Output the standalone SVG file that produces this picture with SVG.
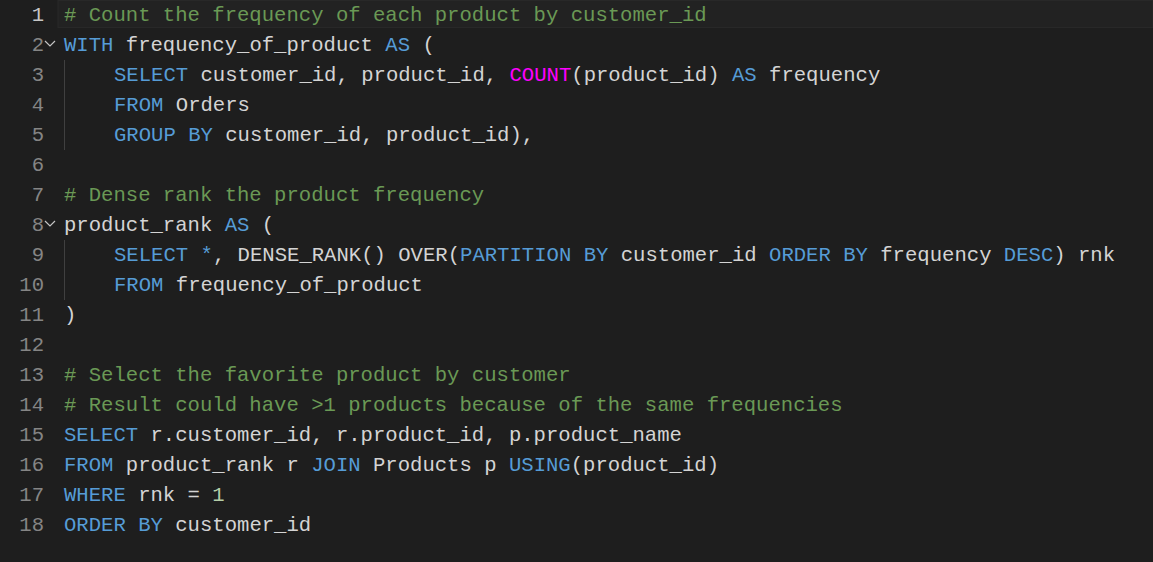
<svg xmlns="http://www.w3.org/2000/svg" width="1153" height="562" viewBox="0 0 1153 562">
<style>
text{font-family:"Liberation Mono","DejaVu Sans Mono",monospace;font-size:20.6px;fill:#d4d4d4;white-space:pre}
.n{fill:#858585;text-anchor:end}
.c{fill:#6a9955}.k{fill:#569cd6}.m{fill:#ff00ff}.d{fill:#b5cea8}
.g{stroke:#404040;stroke-width:1}
.f{fill:none;stroke:#c5c5c5;stroke-width:1.2}
</style>
<rect width="1153" height="562" fill="#1e1e1e"/>
<rect x="58" y="0.5" width="1095" height="27" fill="#222222" stroke="#282828"/>
<g id="guides">
<line class="g" x1="64.5" y1="60" x2="64.5" y2="150"/>
<line class="g" x1="64.5" y1="240" x2="64.5" y2="300"/>
<path class="f" d="M45 41 l5 5 l5 -5"/>
<path class="f" d="M45 221 l5 5 l5 -5"/>
</g>
<g id="numbers">
<text class="n" x="44" y="21" style="fill:#c6c6c6">1</text>
<text class="n" x="44" y="51">2</text><text class="n" x="44" y="81">3</text>
<text class="n" x="44" y="111">4</text><text class="n" x="44" y="141">5</text>
<text class="n" x="44" y="171">6</text><text class="n" x="44" y="201">7</text>
<text class="n" x="44" y="231">8</text><text class="n" x="44" y="261">9</text>
<text class="n" x="44" y="291">10</text><text class="n" x="44" y="321">11</text>
<text class="n" x="44" y="351">12</text><text class="n" x="44" y="381">13</text>
<text class="n" x="44" y="411">14</text><text class="n" x="44" y="441">15</text>
<text class="n" x="44" y="471">16</text><text class="n" x="44" y="501">17</text>
<text class="n" x="44" y="531">18</text>
</g>
<g id="code">
<text x="64" y="21" class="c"># Count the frequency of each product by customer_id</text>
<text x="64" y="51"><tspan class="k">WITH</tspan> frequency_of_product <tspan class="k">AS</tspan> (</text>
<text x="114" y="81"><tspan class="k">SELECT</tspan> customer_id, product_id, <tspan class="m">COUNT</tspan>(product_id) <tspan class="k">AS</tspan> frequency</text>
<text x="114" y="111"><tspan class="k">FROM</tspan> Orders</text>
<text x="114" y="141"><tspan class="k">GROUP BY</tspan> customer_id, product_id),</text>
<text x="64" y="201" class="c"># Dense rank the product frequency</text>
<text x="64" y="231">product_rank <tspan class="k">AS</tspan> (</text>
<text x="114" y="261"><tspan class="k">SELECT</tspan> <tspan class="k">*</tspan>, DENSE_RANK() OVER(<tspan class="k">PARTITION BY</tspan> customer_id <tspan class="k">ORDER BY</tspan> frequency <tspan class="k">DESC</tspan>) rnk</text>
<text x="114" y="291"><tspan class="k">FROM</tspan> frequency_of_product</text>
<text x="64" y="321">)</text>
<text x="64" y="381" class="c"># Select the favorite product by customer</text>
<text x="64" y="411" class="c"># Result could have &gt;1 products because of the same frequencies</text>
<text x="64" y="441"><tspan class="k">SELECT</tspan> r.customer_id, r.product_id, p.product_name</text>
<text x="64" y="471"><tspan class="k">FROM</tspan> product_rank r <tspan class="k">JOIN</tspan> Products p <tspan class="k">USING</tspan>(product_id)</text>
<text x="64" y="501"><tspan class="k">WHERE</tspan> rnk = <tspan class="d">1</tspan></text>
<text x="64" y="531"><tspan class="k">ORDER BY</tspan> customer_id</text>
</g>
</svg>
